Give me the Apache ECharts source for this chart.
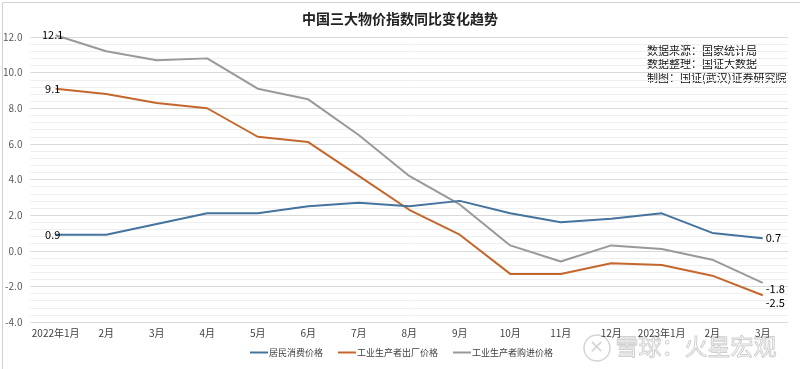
<!DOCTYPE html>
<html><head><meta charset="utf-8">
<script src="https://cdn.jsdelivr.net/npm/echarts@6/dist/echarts.min.js"></script>
<style>html,body{margin:0;padding:0;background:#fff}#c{width:800px;height:369px}</style>
</head><body><div id="c"></div>
<script>
var categories = ['2022年1月','2月','3月','4月','5月','6月','7月','8月','9月','10月','11月','12月','2023年1月','2月','3月'];
var cpi  = [0.9,0.9,1.5,2.1,2.1,2.5,2.7,2.5,2.8,2.1,1.6,1.8,2.1,1.0,0.7];
var ppi  = [9.1,8.8,8.3,8.0,6.4,6.1,4.2,2.3,0.9,-1.3,-1.3,-0.7,-0.8,-1.4,-2.5];
var ppirm= [12.1,11.2,10.7,10.8,9.1,8.5,6.5,4.2,2.6,0.3,-0.6,0.3,0.1,-0.5,-1.8];
var seriesNames = ['居民消费价格','工业生产者出厂价格','工业生产者购进价格'];
var yTicks = {min:-4, max:12, interval:2};

var font = 'Microsoft YaHei, "Noto Sans CJK SC", sans-serif';
var chart = echarts.init(document.getElementById('c'));
function fmt(p){return p.value.toFixed(1);}
function endLabels(arr, lastOffset){
  var n = arr.length;
  return arr.map(function(v,i){
    if(i===0) return {value:v,label:{show:true,position:'inside',offset:[-3,0],formatter:fmt}};
    if(i===n-1) return {value:v,label:{show:true,position:'right',distance:3,offset:lastOffset,formatter:fmt}};
    return {value:v,label:{show:false}};
  });
}
var lblStyle = {color:'#000',fontSize:11,fontFamily:font};
function mk(name, arr, color, off, z){
  return {name:name,type:'line',data:endLabels(arr,off),symbol:'circle',symbolSize:0,showSymbol:true,clip:false,
    lineStyle:{width:2,color:color},itemStyle:{color:color},label:lblStyle,z:z};
}
chart.setOption({
  backgroundColor:'#fff',
  animation:false,
  title:{text:'中国三大物价指数同比变化趋势',left:'center',top:7,textStyle:{fontSize:14,fontWeight:'bold',color:'#222',fontFamily:font}},
  grid:{left:30,right:12,top:37,bottom:47},
  legend:{bottom:7,left:245,itemWidth:18,itemHeight:2,itemGap:15,icon:'rect',
    textStyle:{fontSize:9,color:'#404040',fontFamily:font,padding:[0,0,0,-4]},data:seriesNames},
  xAxis:{type:'category',data:categories,boundaryGap:true,
    axisLine:{show:false},axisTick:{show:false},
    axisLabel:{fontSize:10,color:'#404040',fontFamily:font,margin:6,interval:0}},
  yAxis:{type:'value',min:yTicks.min,max:yTicks.max,interval:yTicks.interval,
    axisLabel:{fontSize:10,color:'#595959',fontFamily:font,margin:8,formatter:function(v){return v.toFixed(1);}},
    splitLine:{lineStyle:{color:'#d9d9d9',width:1}},
    minorTick:{show:false,splitNumber:5},
    minorSplitLine:{show:true,lineStyle:{color:'#efefef',width:1}}},
  series:[
    mk(seriesNames[0],cpi,'#44739e',[0,0],3),
    mk(seriesNames[1],ppi,'#c4672c',[0,8],2),
    mk(seriesNames[2],ppirm,'#999999',[0,6],1)
  ],
  graphic:[
    {type:'rect',left:0,top:0,shape:{width:799,height:368},style:{fill:'none',stroke:'#d0d0d0',lineWidth:1},silent:true,z:-1},
    {type:'text',left:647,top:44,style:{text:'数据来源：国家统计局\n数据整理：国证大数据\n制图：国证(武汉)证券研究院',font:'11px '+font,fill:'#111',lineHeight:13.5}},
    {type:'circle',shape:{cx:597,cy:348,r:13},style:{fill:'none',stroke:'rgba(150,150,150,0.4)',lineWidth:1.5},silent:true},
    {type:'text',left:589,top:337,style:{text:'✕',font:'18px '+font,fill:'rgba(150,150,150,0.4)'},silent:true},
    {type:'text',left:615,top:334,style:{text:'雪球：火星宏观',font:'23px '+font,fill:'rgba(255,255,255,0)',stroke:'rgba(150,150,150,0.45)',lineWidth:1},silent:true}
  ]
});
</script></body></html>
